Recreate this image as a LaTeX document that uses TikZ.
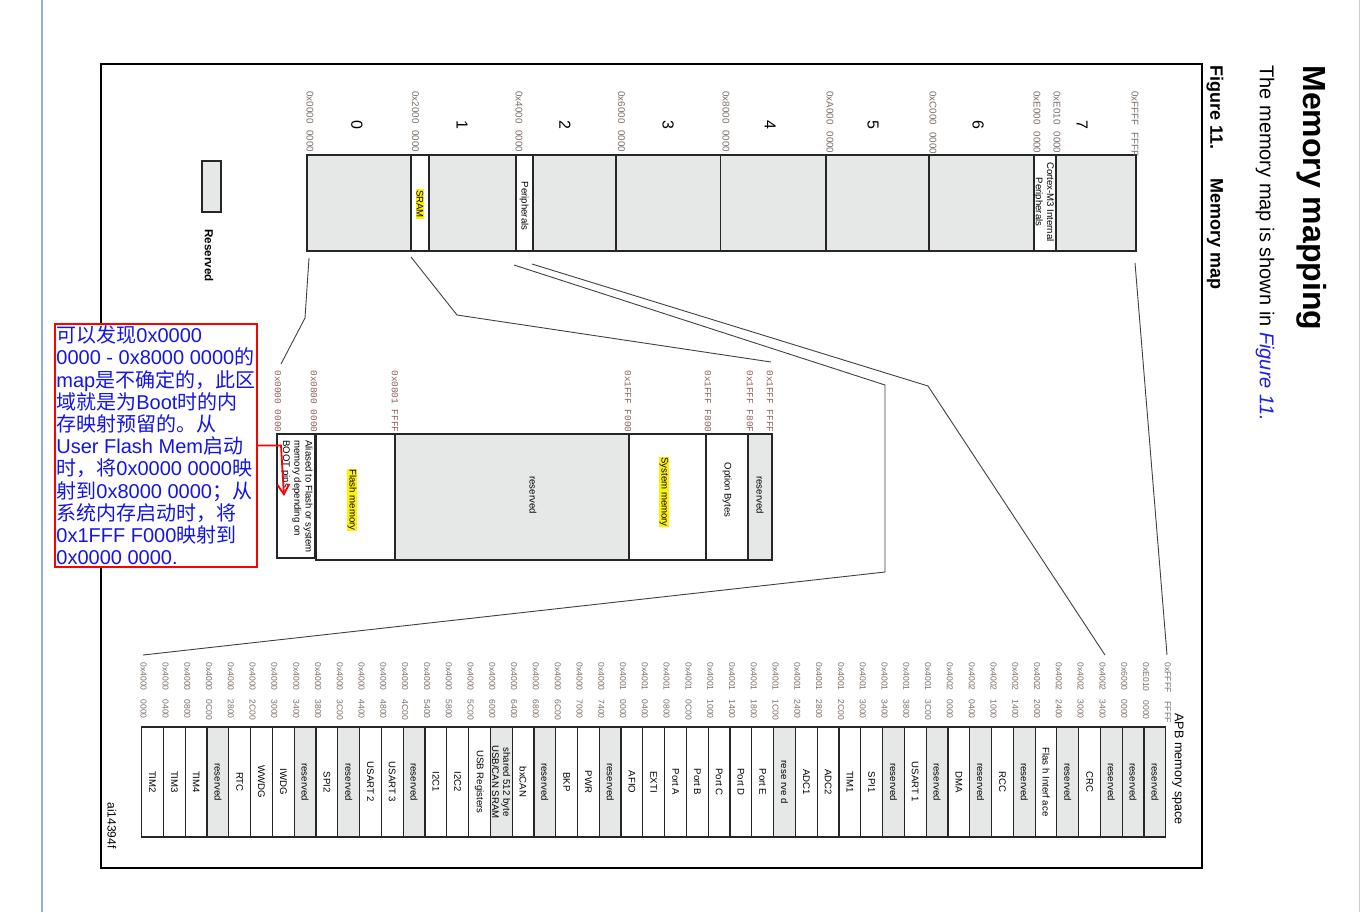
\documentclass[tikz,border=0pt]{standalone}
\usepackage{fontspec}
\setmainfont{Liberation Sans}
\setmonofont{Liberation Mono}
\newfontfamily\cjk{Noto Sans CJK SC}
\usepackage{tikz}
\usetikzlibrary{calc,arrows.meta}
\definecolor{resgray}{RGB}{230,231,231}
\definecolor{addrgray}{RGB}{120,108,100}
\definecolor{addrbrown}{RGB}{140,95,88}
\definecolor{noteblue}{RGB}{20,20,230}
\definecolor{figblue}{RGB}{30,30,235}
\definecolor{pageblue}{RGB}{150,170,230}
\newcommand{\zh}[1]{{\cjk #1}}
\newcommand{\usbcan}{shared 512 byte\\USB/CAN SRAM}
\tikzstyle{turned} = [rotate=-90, inner sep=0pt]
\tikzstyle{block} = [draw=black!85, line width=0.6pt]
\tikzstyle{line} = [draw=black!75, line width=0.45pt]
\tikzstyle{addr} = [turned, anchor=west, text=addrgray, font=\fontsize{4.9}{5.5}\selectfont]
\tikzstyle{apbaddr} = [turned, anchor=west, text=addrgray, font=\fontsize{4.3}{5}\selectfont]
\tikzstyle{flashaddr} = [turned, anchor=west, text=addrbrown, font=\ttfamily\fontsize{4.7}{5.2}\selectfont]
\tikzstyle{region} = [turned, font=\fontsize{8}{9}\selectfont]
\tikzstyle{celltext} = [turned, align=center, font=\fontsize{4.8}{5.6}\selectfont]
\tikzstyle{hilite} = [fill=yellow, inner sep=0.4pt]
\tikzstyle{note} = [draw=red, line width=0.85pt, fill=white, anchor=north west,
    minimum width=101pt, align=left, inner xsep=0.5pt, inner ysep=1pt,
    text=noteblue, font=\fontsize{10}{11.1}\selectfont]
\tikzstyle{redline} = [draw=red, line width=0.9pt]

\begin{document}
\begin{tikzpicture}[x=0.5pt, y=-0.5pt]
        \useasboundingbox (0,0) rectangle (1364,912);
        % page edges and frame
        \draw[pageblue, line width=0.6pt] (42,0) -- (42,912);
        \draw[black!20, line width=0.4pt] (1359,0) -- (1359,912);
        \draw[black, line width=0.6pt] (101,64) rectangle (1202,868);
        % title
        \node[turned, anchor=west, font=\fontsize{16}{18}\selectfont\bfseries] (title) at (1312,65) {Memory mapping};
        \node[turned, anchor=west, font=\fontsize{10}{12}\selectfont] (intro) at (1265,65)
            {The memory map is shown in \textcolor{figblue}{\textit{Figure 11.}}};
        \node[turned, anchor=west, font=\fontsize{9}{11}\selectfont\bfseries] (fignum) at (1215,65) {Figure 11.};
        \node[turned, anchor=west, font=\fontsize{9}{11}\selectfont\bfseries] (figname) at (1215,178) {Memory map};
        % legend
        \draw[block, fill=resgray] (202,161) rectangle (221,212);
        \node[turned, anchor=west, font=\fontsize{5.8}{7}\selectfont\bfseries] (legend) at (209,229) {Reserved};
        % 4 GB address space
        \foreach \xa/\xb/\fl in {307/411/resgray, 411/429/white, 429/516/resgray, 516/533/white,
            533/616/resgray, 616/720.5/resgray, 720.5/826/resgray, 826/929/resgray,
            929/1034/resgray, 1034/1056/white, 1056/1136/resgray}
            \draw[block, fill=\fl] (\xa,155) rectangle (\xb,251);
        \foreach \x/\hi/\lo [count=\i] in {310/0000/0000, 415.5/2000/0000, 519/4000/0000,
            621.5/6000/0000, 726/8000/0000, 830/A000/0000, 933/C000/0000,
            1037/E000/0000, 1057/E010/0000, 1135/FFFF/FFFF}
            \node[addr] (top\i) at (\x,91) {0x\hi\hspace{3.5pt}\lo};
        \foreach \x/\n in {357/0, 462/1, 565/2, 668/3, 770/4, 873/5, 978/6, 1082/7}
            \node[region] (reg\n) at (\x,125) {\n};
        \node[celltext, hilite] (sram) at (420,204) {SRAM};
        \node[celltext] (periph) at (524,206) {Peripherals};
        \node[celltext] (cortex) at (1044,202) {Cortex-M3 Internal\\Peripherals};
        % code area
        \draw[block, fill=white] (277,434) rectangle (315,558);
        \foreach \xa/\xb/\fl in {316/395/white, 395/629/resgray, 629/706/white, 706/748/white, 748/772/resgray}
            \draw[block, fill=\fl] (\xa,434) rectangle (\xb,560);
        \foreach \x/\hi/\lo [count=\i] in {278/0000/0000, 314/0800/0000, 395/0801/FFFF,
            628/1FFF/F000, 708/1FFF/F800, 750/1FFF/F80F, 770/1FFF/FFFF}
            \node[flashaddr] (fl\i) at (\x,370) {0x\hi\ \lo};
        \node[celltext, anchor=north west, align=left] (alias) at (313,440)
            {Aliased to Flash or system\\memory depending on\\BOOT pins};
        \node[celltext, hilite] (flash) at (352,500) {Flash memory};
        \node[celltext] (coderes) at (533,495) {reserved};
        \node[celltext, hilite] (sysmem) at (664,492) {System memory};
        \node[celltext] (optbytes) at (727,490) {Option Bytes};
        \node[celltext] (optres) at (760,495) {reserved};
        % APB memory space
        \foreach \lbl/\fl [count=\i from 0] in {TIM2/white, TIM3/white, TIM4/white, reserved/resgray,
            RTC/white, WWDG/white, IWDG/white, reserved/resgray, SPI2/white, reserved/resgray,
            USART 2/white, USART 3/white, reserved/resgray, I2C1/white, I2C2/white,
            USB Registers/white, \usbcan/resgray, bxCAN/white, reserved/resgray, BKP/white,
            PWR/white, reserved/resgray, AFIO/white, EXTI/white, Port A/white, Port B/white,
            Port C/white, Port D/white, Port E/white, rese rve d/resgray, ADC1/white, ADC2/white,
            TIM1/white, SPI1/white, reserved/resgray, USART 1/white, reserved/resgray, DMA/white,
            reserved/resgray, RCC/white, reserved/resgray, Flas h Interf ace/white,
            reserved/resgray, CRC/white, reserved/resgray, reserved/resgray, reserved/resgray}
        {
            \pgfmathsetmacro\xa{141.7+21.79*\i}
            \pgfmathsetmacro\xb{\xa+21.79}
            \draw[block, fill=\fl] (\xa,727) rectangle (\xb,837);
            \node[celltext] (apb\i) at ({(\xa+\xb)/2},782) {\lbl};
        }
        \foreach \hi/\lo [count=\i from 0] in {4000/0000, 4000/0400, 4000/0800, 4000/0C00,
            4000/2800, 4000/2C00, 4000/3000, 4000/3400, 4000/3800, 4000/3C00, 4000/4400,
            4000/4800, 4000/4C00, 4000/5400, 4000/5800, 4000/5C00, 4000/6000, 4000/6400,
            4000/6800, 4000/6C00, 4000/7000, 4000/7400, 4001/0000, 4001/0400, 4001/0800,
            4001/0C00, 4001/1000, 4001/1400, 4001/1800, 4001/1C00, 4001/2400, 4001/2800,
            4001/2C00, 4001/3000, 4001/3400, 4001/3800, 4001/3C00, 4002/0000, 4002/0400,
            4002/1000, 4002/1400, 4002/2000, 4002/2400, 4002/3000, 4002/3400, 6000/0000,
            E010/0000, FFFF/FFFF}
            \node[apbaddr] (ad\i) at ({143.7+21.79*\i},662) {0x\hi\hspace{4.5pt}\lo};
        \node[turned, anchor=west, font=\fontsize{6.3}{7.5}\selectfont] (apbtitle) at (1178,713) {APB memory space};
        \node[turned, anchor=west, font=\fontsize{6}{7}\selectfont] (figid) at (112,802) {ai14394f};
        % zoom lines
        \coordinate (z0a) at (309,258); \coordinate (z0b) at (305,318); \coordinate (z0c) at (281,364);
        \coordinate (z1a) at (411,257); \coordinate (z1b) at (457,315); \coordinate (z1c) at (771,362);
        \coordinate (z2a) at (514,265); \coordinate (z2b) at (885,385); \coordinate (z2c) at (885,572);
        \coordinate (z2d) at (143,655);
        \coordinate (z3a) at (532,264); \coordinate (z3b) at (928,386); \coordinate (z3c) at (1105,655);
        \coordinate (z4a) at (1135,263); \coordinate (z4b) at (1167,655);
        \path [line] (z0a) -- (z0b) -- (z0c);
        \path [line] (z1a) -- (z1b) -- (z1c);
        \path [line] (z2a) -- (z2b) -- (z2c) -- (z2d);
        \path [line] (z3a) -- (z3b) -- (z3c);
        \path [line] (z4a) -- (z4b);
        % note
        \node[note] (remark) at (54,323) {%
            \zh{可以发现}0x0000\\
            0000 - 0x8000 0000\zh{的}\\
            map\zh{是不确定的，此区}\\
            \zh{域就是为}Boot\zh{时的内}\\
            \zh{存映射预留的。从}\\
            User Flash Mem\zh{启动}\\
            \zh{时，将}0x0000 0000\zh{映}\\
            \zh{射到}0x8000 0000\zh{；从}\\
            \zh{系统内存启动时，将}\\
            0x1FFF F000\zh{映射到}\\
            0x0000 0000.};
        \coordinate (redbend) at (281,446);
        \coordinate (redtip) at (284,496);
        \path [redline, -{Straight Barb[length=5pt,width=6pt]}] (remark.east) -- (redbend |- remark.east) -- (redtip);
    \end{tikzpicture}
\end{document}
